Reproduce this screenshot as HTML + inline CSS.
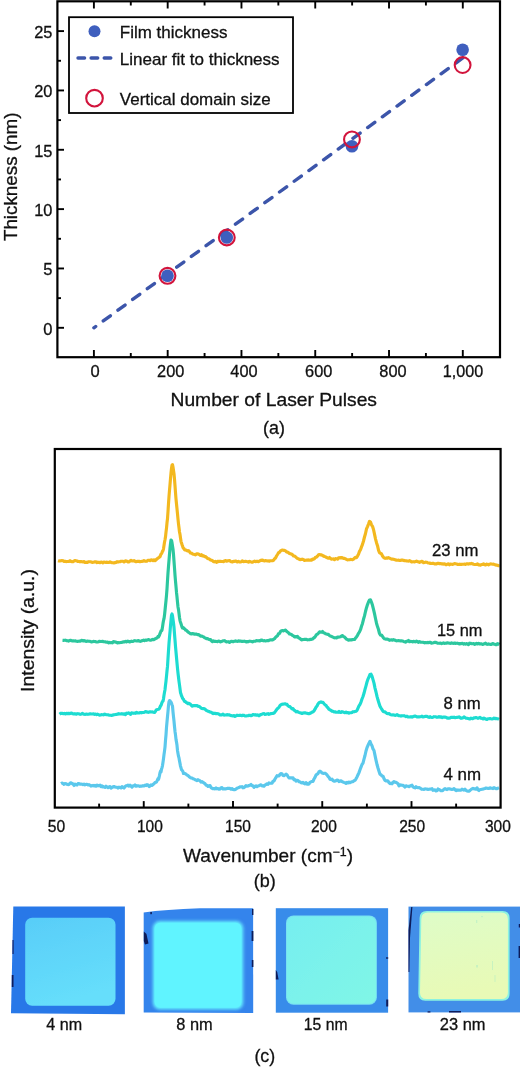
<!DOCTYPE html>
<html lang="en"><head><meta charset="utf-8"><title>Figure</title>
<style>html,body{margin:0;padding:0;background:#fff}body{width:520px;height:1067px;overflow:hidden}svg{display:block}svg text{stroke:#111;stroke-width:.3px}</style>
</head><body>
<svg width="520" height="1067" viewBox="0 0 520 1067" font-family='"Liberation Sans", sans-serif' fill="#111">
<rect width="520" height="1067" fill="#fff"/>
<g stroke="#000" stroke-width="1.9" fill="none">
<line x1="57.4" x2="64.0" y1="327.80" y2="327.80"/>
<line x1="57.4" x2="64.0" y1="268.46" y2="268.46"/>
<line x1="57.4" x2="64.0" y1="209.12" y2="209.12"/>
<line x1="57.4" x2="64.0" y1="149.78" y2="149.78"/>
<line x1="57.4" x2="64.0" y1="90.44" y2="90.44"/>
<line x1="57.4" x2="64.0" y1="31.10" y2="31.10"/>
<line x1="57.4" x2="61.0" y1="298.13" y2="298.13"/>
<line x1="57.4" x2="61.0" y1="238.79" y2="238.79"/>
<line x1="57.4" x2="61.0" y1="179.45" y2="179.45"/>
<line x1="57.4" x2="61.0" y1="120.11" y2="120.11"/>
<line x1="57.4" x2="61.0" y1="60.77" y2="60.77"/>
<line x1="93.90" x2="93.90" y1="357.2" y2="350.0"/>
<line x1="93.90" x2="93.90" y1="1.3" y2="8.5"/>
<line x1="167.68" x2="167.68" y1="357.2" y2="350.0"/>
<line x1="167.68" x2="167.68" y1="1.3" y2="8.5"/>
<line x1="241.46" x2="241.46" y1="357.2" y2="350.0"/>
<line x1="241.46" x2="241.46" y1="1.3" y2="8.5"/>
<line x1="315.24" x2="315.24" y1="357.2" y2="350.0"/>
<line x1="315.24" x2="315.24" y1="1.3" y2="8.5"/>
<line x1="389.02" x2="389.02" y1="357.2" y2="350.0"/>
<line x1="389.02" x2="389.02" y1="1.3" y2="8.5"/>
<line x1="462.80" x2="462.80" y1="357.2" y2="350.0"/>
<line x1="462.80" x2="462.80" y1="1.3" y2="8.5"/>
<line x1="130.79" x2="130.79" y1="357.2" y2="353.0"/>
<line x1="130.79" x2="130.79" y1="1.3" y2="5.5"/>
<line x1="204.57" x2="204.57" y1="357.2" y2="353.0"/>
<line x1="204.57" x2="204.57" y1="1.3" y2="5.5"/>
<line x1="278.35" x2="278.35" y1="357.2" y2="353.0"/>
<line x1="278.35" x2="278.35" y1="1.3" y2="5.5"/>
<line x1="352.13" x2="352.13" y1="357.2" y2="353.0"/>
<line x1="352.13" x2="352.13" y1="1.3" y2="5.5"/>
<line x1="425.91" x2="425.91" y1="357.2" y2="353.0"/>
<line x1="425.91" x2="425.91" y1="1.3" y2="5.5"/>
</g>
<rect x="57.4" y="1.3" width="442.6" height="355.9" fill="none" stroke="#000" stroke-width="2.2"/>
<rect x="69" y="17.2" width="224" height="95.8" fill="#fff" stroke="#000" stroke-width="1.8"/>
<line x1="93.90" y1="327.80" x2="462.80" y2="57.92" stroke="#3C55AA" stroke-width="3.4" stroke-dasharray="8.8 9.4" stroke-dashoffset="6.6" stroke-linecap="round"/>
<circle cx="167.50" cy="275.82" r="6.3" fill="#3F5FBE"/>
<circle cx="226.81" cy="237.48" r="6.3" fill="#3F5FBE"/>
<circle cx="351.95" cy="146.22" r="6.3" fill="#3F5FBE"/>
<circle cx="462.62" cy="49.73" r="6.3" fill="#3F5FBE"/>
<circle cx="167.50" cy="275.82" r="7.9" fill="none" stroke="#D2143C" stroke-width="2.1"/>
<circle cx="226.81" cy="237.48" r="7.9" fill="none" stroke="#D2143C" stroke-width="2.1"/>
<circle cx="351.95" cy="139.45" r="7.9" fill="none" stroke="#D2143C" stroke-width="2.1"/>
<circle cx="462.62" cy="65.04" r="7.9" fill="none" stroke="#D2143C" stroke-width="2.1"/>
<circle cx="94.5" cy="31.2" r="6.0" fill="#3F5FBE"/>
<line x1="78" y1="58" x2="110.8" y2="58" stroke="#3C55AA" stroke-width="3.4" stroke-dasharray="6.6 6.5" stroke-linecap="round"/>
<circle cx="94.5" cy="98.2" r="8.3" fill="none" stroke="#D2143C" stroke-width="2.1"/>
<text x="119.80" y="37.60" font-size="16.6" text-anchor="start" textLength="107.6" lengthAdjust="spacingAndGlyphs">Film thickness</text>
<text x="119.80" y="64.60" font-size="16.6" text-anchor="start" textLength="159.8" lengthAdjust="spacingAndGlyphs">Linear fit to thickness</text>
<text x="119.80" y="105.10" font-size="16.6" text-anchor="start" textLength="151.0" lengthAdjust="spacingAndGlyphs">Vertical domain size</text>
<text x="52.40" y="334.60" font-size="16.6" text-anchor="end" textLength="9.2" lengthAdjust="spacingAndGlyphs">0</text>
<text x="52.40" y="275.26" font-size="16.6" text-anchor="end" textLength="9.2" lengthAdjust="spacingAndGlyphs">5</text>
<text x="52.40" y="215.92" font-size="16.6" text-anchor="end" textLength="18.2" lengthAdjust="spacingAndGlyphs">10</text>
<text x="52.40" y="156.58" font-size="16.6" text-anchor="end" textLength="18.2" lengthAdjust="spacingAndGlyphs">15</text>
<text x="52.40" y="97.24" font-size="16.6" text-anchor="end" textLength="18.2" lengthAdjust="spacingAndGlyphs">20</text>
<text x="52.40" y="37.90" font-size="16.6" text-anchor="end" textLength="18.2" lengthAdjust="spacingAndGlyphs">25</text>
<text x="95.20" y="376.80" font-size="16.5" text-anchor="middle" textLength="9.2" lengthAdjust="spacingAndGlyphs">0</text>
<text x="170.75" y="376.80" font-size="16.5" text-anchor="middle" textLength="27.3" lengthAdjust="spacingAndGlyphs">200</text>
<text x="244.00" y="376.80" font-size="16.5" text-anchor="middle" textLength="27.3" lengthAdjust="spacingAndGlyphs">400</text>
<text x="318.75" y="376.80" font-size="16.5" text-anchor="middle" textLength="27.3" lengthAdjust="spacingAndGlyphs">600</text>
<text x="393.00" y="376.80" font-size="16.5" text-anchor="middle" textLength="27.3" lengthAdjust="spacingAndGlyphs">800</text>
<text x="462.90" y="376.80" font-size="16.5" text-anchor="middle" textLength="40.5" lengthAdjust="spacingAndGlyphs">1,000</text>
<text x="170.50" y="405.50" font-size="18.5" text-anchor="start" textLength="206.5" lengthAdjust="spacingAndGlyphs">Number of Laser Pulses</text>
<text x="263.10" y="434.30" font-size="19" text-anchor="start" textLength="21.9" lengthAdjust="spacingAndGlyphs">(a)</text>
<text transform="translate(16.6,176.8) rotate(-90)" font-size="19.2" text-anchor="middle" textLength="128.6" lengthAdjust="spacingAndGlyphs">Thickness (nm)</text>
<g stroke="#000" stroke-width="1.9" fill="none">
<line x1="143.75" x2="143.75" y1="807.6" y2="801.1"/>
<line x1="233.00" x2="233.00" y1="807.6" y2="801.1"/>
<line x1="322.25" x2="322.25" y1="807.6" y2="801.1"/>
<line x1="411.50" x2="411.50" y1="807.6" y2="801.1"/>
<line x1="99.12" x2="99.12" y1="807.6" y2="803.6"/>
<line x1="188.38" x2="188.38" y1="807.6" y2="803.6"/>
<line x1="277.62" x2="277.62" y1="807.6" y2="803.6"/>
<line x1="366.88" x2="366.88" y1="807.6" y2="803.6"/>
<line x1="456.12" x2="456.12" y1="807.6" y2="803.6"/>
</g>
<path d="M58.0,560.7 L59.0,561.0 L60.0,560.9 L61.0,560.8 L62.0,560.6 L63.0,560.7 L64.0,561.3 L65.0,561.3 L66.0,561.6 L67.0,561.5 L68.0,561.5 L69.0,561.4 L70.0,560.7 L71.0,561.4 L72.0,561.6 L73.0,561.7 L74.0,560.9 L75.0,560.6 L76.0,560.8 L77.0,561.0 L78.0,561.5 L79.0,561.5 L80.0,561.8 L81.0,561.5 L82.0,561.8 L83.0,561.9 L84.0,561.6 L85.0,562.4 L86.0,562.3 L87.0,562.5 L88.0,562.0 L89.0,561.7 L90.0,561.8 L91.0,561.9 L92.0,562.3 L93.0,562.3 L94.0,562.1 L95.0,561.8 L96.0,561.9 L97.0,562.6 L98.0,562.2 L99.0,562.4 L100.0,562.6 L101.0,562.0 L102.0,562.3 L103.0,562.9 L104.0,562.0 L105.0,562.2 L106.0,562.4 L107.0,562.1 L108.0,562.5 L109.0,562.4 L110.0,561.8 L111.0,562.4 L112.0,562.6 L113.0,562.7 L114.0,562.9 L115.0,562.6 L116.0,562.4 L117.0,561.7 L118.0,562.1 L119.0,561.8 L120.0,561.7 L121.0,561.3 L122.0,561.2 L123.0,561.3 L124.0,562.0 L125.0,561.1 L126.0,560.9 L127.0,561.3 L128.0,562.0 L129.0,561.9 L130.0,561.0 L131.0,560.3 L132.0,561.0 L133.0,560.9 L134.0,560.7 L135.0,561.3 L136.0,561.7 L137.0,561.4 L138.0,561.3 L139.0,561.3 L140.0,561.7 L141.0,561.5 L142.0,561.4 L143.0,561.3 L144.0,560.5 L145.0,561.1 L146.0,561.3 L147.0,561.1 L148.0,560.2 L149.0,560.2 L150.0,560.7 L151.0,559.9 L152.0,560.1 L153.0,560.6 L154.0,559.9 L155.0,560.6 L156.0,559.9 L157.0,558.9 L158.0,558.1 L159.0,557.5 L159.5,556.9 L160.0,556.8 L160.5,555.4 L161.0,554.2 L161.5,553.7 L162.0,552.6 L162.5,551.2 L163.0,550.7 L163.5,548.8 L164.0,545.6 L164.5,542.3 L165.0,539.8 L165.5,536.8 L166.0,532.1 L166.5,528.1 L167.0,522.8 L167.5,518.6 L168.0,511.5 L168.5,503.7 L169.0,496.5 L169.5,490.4 L170.0,484.7 L170.5,478.7 L171.0,473.2 L171.5,468.5 L172.0,465.2 L172.5,464.7 L173.0,467.0 L173.5,470.5 L174.0,473.7 L174.5,479.1 L175.0,485.6 L175.5,492.7 L176.0,498.8 L176.5,504.0 L177.0,508.8 L177.5,513.9 L178.0,519.2 L178.5,523.9 L179.0,527.8 L179.5,532.0 L180.0,534.4 L180.5,538.0 L181.0,541.3 L181.5,543.1 L182.0,544.6 L182.5,545.9 L183.0,547.7 L183.5,548.4 L184.0,548.5 L184.5,549.8 L185.0,549.8 L185.5,549.8 L186.0,550.1 L186.5,550.4 L187.5,551.0 L188.5,550.7 L189.5,551.7 L190.5,553.0 L191.5,553.2 L192.5,553.8 L193.5,554.3 L194.5,554.5 L195.5,554.9 L196.5,553.9 L197.5,553.9 L198.5,554.1 L199.5,554.8 L200.5,555.5 L201.5,554.7 L202.5,555.9 L203.5,555.7 L204.5,556.6 L205.5,556.6 L206.5,557.4 L207.5,558.4 L208.5,558.7 L209.5,559.2 L210.5,559.9 L211.5,560.2 L212.5,560.6 L213.5,561.6 L214.5,561.8 L215.5,561.4 L216.5,562.3 L217.5,561.3 L218.5,561.6 L219.5,561.3 L220.5,561.3 L221.5,561.5 L222.5,561.5 L223.5,561.6 L224.5,560.9 L225.5,560.6 L226.5,561.2 L227.5,560.9 L228.5,560.8 L229.5,560.5 L230.5,561.4 L231.5,561.7 L232.5,562.0 L233.5,561.3 L234.5,561.4 L235.5,561.0 L236.5,561.5 L237.5,562.0 L238.5,561.4 L239.5,562.0 L240.5,562.0 L241.5,561.6 L242.5,560.8 L243.5,561.7 L244.5,561.5 L245.5,561.3 L246.5,561.5 L247.5,561.7 L248.5,562.1 L249.5,561.4 L250.5,561.8 L251.5,562.1 L252.5,562.2 L253.5,561.6 L254.5,561.2 L255.5,561.6 L256.5,561.4 L257.5,561.3 L258.5,561.7 L259.5,561.2 L260.5,560.3 L261.5,560.5 L262.5,560.0 L263.5,560.8 L264.5,560.9 L265.5,560.6 L266.5,560.7 L267.5,561.0 L268.5,560.9 L269.5,561.2 L270.5,560.7 L271.5,560.7 L272.5,560.7 L273.5,560.3 L274.5,558.8 L275.5,558.1 L276.5,556.0 L277.5,554.5 L278.5,552.7 L279.5,552.3 L280.5,550.8 L281.5,550.3 L282.5,550.1 L283.5,550.3 L284.5,550.3 L285.5,550.8 L286.5,551.9 L287.5,552.1 L288.5,552.7 L289.5,553.5 L290.5,553.9 L291.5,554.0 L292.5,554.8 L293.5,556.0 L294.5,556.0 L295.5,556.7 L296.5,557.8 L297.5,558.5 L298.5,558.8 L299.5,559.4 L300.5,559.6 L301.5,559.3 L302.5,559.2 L303.5,559.6 L304.5,560.4 L305.5,560.2 L306.5,560.1 L307.5,560.1 L308.5,559.9 L309.5,560.2 L310.5,559.9 L311.5,560.2 L312.5,559.1 L313.5,559.3 L314.5,558.6 L315.5,557.3 L316.5,557.2 L317.5,556.2 L318.5,554.8 L319.5,554.5 L320.5,554.9 L321.5,554.9 L322.5,555.5 L323.5,556.0 L324.5,556.5 L325.5,556.8 L326.5,557.5 L327.5,557.9 L328.5,558.2 L329.5,557.5 L330.5,558.5 L331.5,559.2 L332.5,559.0 L333.5,558.9 L334.5,559.7 L335.5,558.6 L336.5,558.7 L337.5,559.2 L338.5,557.9 L339.5,557.7 L340.5,558.0 L341.5,557.5 L342.5,557.8 L343.5,558.4 L344.5,558.3 L345.5,558.8 L346.5,559.4 L347.5,559.9 L348.5,559.8 L349.5,559.7 L350.5,559.4 L351.5,559.5 L352.5,559.7 L353.5,559.1 L354.5,558.1 L355.5,557.4 L356.5,557.7 L357.5,556.1 L358.5,554.2 L359.5,551.4 L360.5,549.7 L361.5,546.9 L362.5,544.4 L363.5,541.0 L364.5,537.0 L365.5,533.5 L366.5,528.9 L367.5,526.6 L368.5,524.1 L369.5,521.4 L370.5,522.0 L371.5,524.8 L372.5,526.3 L373.5,529.5 L374.5,534.2 L375.5,538.8 L376.5,542.7 L377.5,545.7 L378.5,550.1 L379.5,552.8 L380.5,553.2 L381.5,553.9 L382.5,556.0 L383.5,557.3 L384.5,558.2 L385.5,558.3 L386.5,557.9 L387.5,558.2 L388.5,557.7 L389.5,558.1 L390.5,558.6 L391.5,559.1 L392.5,559.0 L393.5,559.2 L394.5,559.6 L395.5,559.9 L396.5,560.1 L397.5,560.2 L398.5,560.1 L399.5,560.5 L400.5,560.4 L401.5,560.1 L402.5,560.1 L403.5,560.4 L404.5,560.6 L405.5,560.8 L406.5,560.9 L407.5,561.0 L408.5,561.1 L409.5,560.7 L410.5,561.2 L411.5,561.8 L412.5,561.8 L413.5,561.7 L414.5,561.9 L415.5,561.6 L416.5,561.1 L417.5,561.7 L418.5,561.7 L419.5,562.3 L420.5,562.0 L421.5,561.3 L422.5,561.6 L423.5,562.7 L424.5,562.5 L425.5,562.1 L426.5,562.2 L427.5,562.7 L428.5,563.0 L429.5,563.0 L430.5,563.5 L431.5,563.5 L432.5,563.3 L433.5,563.4 L434.5,563.9 L435.5,563.9 L436.5,564.0 L437.5,563.3 L438.5,563.3 L439.5,563.7 L440.5,563.5 L441.5,563.9 L442.5,563.9 L443.5,564.1 L444.5,563.8 L445.5,564.6 L446.5,564.6 L447.5,564.0 L448.5,563.9 L449.5,564.8 L450.5,564.1 L451.5,564.3 L452.5,564.4 L453.5,564.1 L454.5,563.6 L455.5,563.8 L456.5,564.0 L457.5,564.4 L458.5,564.5 L459.5,564.2 L460.5,564.4 L461.5,564.4 L462.5,564.3 L463.5,564.2 L464.5,564.1 L465.5,564.4 L466.5,563.9 L467.5,563.8 L468.5,564.1 L469.5,563.7 L470.5,563.8 L471.5,563.4 L472.5,563.7 L473.5,564.3 L474.5,564.5 L475.5,564.5 L476.5,564.4 L477.5,563.9 L478.5,564.9 L479.5,564.9 L480.5,565.1 L481.5,564.5 L482.5,564.5 L483.5,563.9 L484.5,564.6 L485.5,565.0 L486.5,564.1 L487.5,564.4 L488.5,564.8 L489.5,564.2 L490.5,563.9 L491.5,564.0 L492.5,564.2 L493.5,564.1 L494.5,564.6 L495.5,564.9 L496.5,565.1 L497.5,565.3 L498.5,565.7 L499.5,565.7" fill="none" stroke="#F3B81F" stroke-width="3.15" stroke-linejoin="round" stroke-linecap="butt"/>
<path d="M62.5,640.3 L63.5,640.4 L64.5,640.3 L65.5,640.2 L66.5,640.6 L67.5,640.8 L68.5,641.1 L69.5,640.5 L70.5,640.3 L71.5,640.7 L72.5,640.9 L73.5,640.9 L74.5,641.0 L75.5,640.8 L76.5,641.3 L77.5,641.4 L78.5,641.3 L79.5,641.1 L80.5,641.2 L81.5,640.3 L82.5,640.5 L83.5,641.0 L84.5,640.7 L85.5,641.2 L86.5,641.4 L87.5,641.0 L88.5,641.2 L89.5,641.3 L90.5,641.6 L91.5,641.9 L92.5,641.8 L93.5,641.4 L94.5,641.5 L95.5,641.6 L96.5,642.0 L97.5,642.0 L98.5,641.7 L99.5,641.3 L100.5,641.5 L101.5,641.5 L102.5,641.3 L103.5,641.7 L104.5,641.7 L105.5,641.9 L106.5,642.2 L107.5,642.0 L108.5,642.9 L109.5,642.4 L110.5,642.7 L111.5,642.5 L112.5,642.8 L113.5,641.6 L114.5,641.7 L115.5,642.1 L116.5,642.3 L117.5,643.0 L118.5,642.6 L119.5,642.7 L120.5,642.5 L121.5,642.4 L122.5,642.2 L123.5,641.8 L124.5,641.9 L125.5,641.3 L126.5,641.8 L127.5,641.2 L128.5,641.3 L129.5,642.0 L130.5,641.5 L131.5,641.2 L132.5,641.5 L133.5,641.2 L134.5,640.7 L135.5,640.8 L136.5,641.0 L137.5,641.0 L138.5,640.5 L139.5,641.1 L140.5,641.3 L141.5,640.8 L142.5,640.6 L143.5,640.2 L144.5,640.7 L145.5,640.1 L146.5,640.3 L147.5,639.9 L148.5,639.6 L149.5,639.9 L150.5,640.2 L151.5,639.9 L152.5,639.4 L153.5,639.7 L154.5,639.3 L155.5,638.6 L156.5,638.2 L157.5,637.5 L158.0,636.5 L158.5,636.9 L159.0,636.0 L159.5,635.0 L160.0,633.5 L160.5,632.5 L161.0,630.9 L161.5,630.9 L162.0,630.1 L162.5,626.9 L163.0,623.6 L163.5,620.6 L164.0,618.7 L164.5,615.3 L165.0,610.5 L165.5,605.5 L166.0,600.7 L166.5,595.4 L167.0,588.9 L167.5,580.5 L168.0,572.8 L168.5,566.3 L169.0,560.4 L169.5,554.2 L170.0,548.3 L170.5,543.6 L171.0,540.0 L171.5,540.4 L172.0,542.7 L172.5,545.9 L173.0,549.2 L173.5,554.4 L174.0,561.1 L174.5,568.0 L175.0,575.1 L175.5,581.2 L176.0,586.6 L176.5,592.4 L177.0,597.0 L177.5,602.1 L178.0,607.0 L178.5,609.6 L179.0,613.4 L179.5,617.5 L180.0,620.6 L180.5,622.3 L181.0,623.7 L181.5,625.4 L182.0,627.0 L182.5,627.9 L183.0,627.4 L183.5,627.8 L184.0,628.6 L184.5,628.8 L185.0,629.1 L185.5,630.0 L186.5,630.4 L187.5,631.5 L188.5,632.4 L189.5,633.0 L190.5,633.7 L191.5,634.0 L192.5,633.5 L193.5,633.8 L194.5,634.2 L195.5,634.0 L196.5,634.1 L197.5,634.6 L198.5,634.5 L199.5,635.3 L200.5,636.2 L201.5,636.0 L202.5,636.4 L203.5,636.7 L204.5,637.8 L205.5,638.1 L206.5,638.7 L207.5,638.6 L208.5,639.2 L209.5,639.6 L210.5,639.5 L211.5,640.9 L212.5,641.6 L213.5,640.9 L214.5,641.4 L215.5,641.3 L216.5,641.5 L217.5,641.6 L218.5,641.0 L219.5,641.2 L220.5,641.9 L221.5,641.5 L222.5,641.1 L223.5,640.8 L224.5,640.7 L225.5,641.3 L226.5,642.0 L227.5,641.8 L228.5,641.7 L229.5,642.4 L230.5,641.7 L231.5,641.3 L232.5,641.6 L233.5,641.7 L234.5,641.2 L235.5,640.9 L236.5,641.3 L237.5,641.4 L238.5,640.9 L239.5,641.1 L240.5,641.0 L241.5,641.4 L242.5,641.3 L243.5,641.3 L244.5,641.2 L245.5,641.6 L246.5,642.0 L247.5,641.5 L248.5,641.7 L249.5,641.2 L250.5,641.3 L251.5,641.5 L252.5,641.9 L253.5,641.3 L254.5,641.2 L255.5,641.2 L256.5,640.6 L257.5,640.8 L258.5,640.7 L259.5,641.0 L260.5,640.5 L261.5,640.0 L262.5,640.5 L263.5,640.8 L264.5,640.6 L265.5,641.0 L266.5,640.8 L267.5,640.5 L268.5,640.7 L269.5,640.0 L270.5,639.9 L271.5,639.9 L272.5,640.0 L273.5,639.3 L274.5,638.7 L275.5,637.4 L276.5,636.5 L277.5,635.8 L278.5,633.8 L279.5,633.4 L280.5,631.6 L281.5,630.8 L282.5,630.6 L283.5,630.9 L284.5,630.4 L285.5,630.1 L286.5,631.2 L287.5,632.0 L288.5,632.7 L289.5,634.0 L290.5,634.1 L291.5,634.6 L292.5,635.4 L293.5,635.9 L294.5,636.9 L295.5,636.6 L296.5,637.0 L297.5,636.4 L298.5,637.8 L299.5,638.2 L300.5,639.0 L301.5,639.9 L302.5,639.6 L303.5,639.5 L304.5,639.4 L305.5,639.3 L306.5,639.3 L307.5,639.8 L308.5,639.7 L309.5,639.6 L310.5,639.4 L311.5,639.4 L312.5,639.0 L313.5,638.1 L314.5,637.4 L315.5,636.2 L316.5,634.6 L317.5,634.1 L318.5,633.1 L319.5,631.9 L320.5,632.1 L321.5,632.1 L322.5,631.5 L323.5,632.7 L324.5,633.0 L325.5,633.7 L326.5,634.0 L327.5,634.4 L328.5,634.4 L329.5,635.6 L330.5,636.1 L331.5,636.4 L332.5,637.0 L333.5,637.3 L334.5,637.8 L335.5,637.7 L336.5,637.9 L337.5,637.1 L338.5,637.1 L339.5,637.0 L340.5,636.8 L341.5,635.9 L342.5,635.6 L343.5,636.6 L344.5,637.0 L345.5,638.1 L346.5,639.3 L347.5,639.5 L348.5,640.2 L349.5,639.8 L350.5,639.9 L351.5,639.9 L352.5,639.6 L353.5,639.5 L354.5,639.5 L355.5,638.1 L356.5,636.9 L357.5,635.4 L358.5,633.3 L359.5,631.9 L360.5,629.7 L361.5,626.3 L362.5,623.4 L363.5,619.3 L364.5,615.9 L365.5,611.5 L366.5,607.7 L367.5,604.6 L368.5,602.0 L369.5,600.0 L370.5,599.9 L371.5,602.3 L372.5,605.3 L373.5,609.3 L374.5,613.7 L375.5,618.5 L376.5,623.2 L377.5,626.6 L378.5,629.5 L379.5,633.5 L380.5,635.1 L381.5,635.0 L382.5,636.4 L383.5,637.9 L384.5,638.8 L385.5,639.1 L386.5,639.1 L387.5,639.0 L388.5,639.6 L389.5,640.3 L390.5,640.0 L391.5,639.8 L392.5,640.2 L393.5,639.7 L394.5,640.1 L395.5,640.3 L396.5,640.8 L397.5,640.7 L398.5,640.5 L399.5,640.7 L400.5,640.9 L401.5,640.8 L402.5,641.0 L403.5,641.4 L404.5,641.7 L405.5,642.1 L406.5,641.4 L407.5,641.3 L408.5,640.5 L409.5,641.7 L410.5,641.4 L411.5,641.5 L412.5,641.8 L413.5,641.3 L414.5,641.7 L415.5,641.8 L416.5,641.2 L417.5,641.7 L418.5,642.3 L419.5,641.5 L420.5,642.1 L421.5,642.2 L422.5,642.3 L423.5,642.4 L424.5,642.8 L425.5,642.5 L426.5,642.7 L427.5,642.4 L428.5,642.7 L429.5,642.3 L430.5,642.4 L431.5,643.1 L432.5,643.0 L433.5,642.8 L434.5,642.4 L435.5,642.3 L436.5,642.7 L437.5,643.2 L438.5,643.2 L439.5,643.3 L440.5,643.1 L441.5,643.6 L442.5,643.2 L443.5,642.9 L444.5,643.4 L445.5,643.3 L446.5,643.1 L447.5,642.9 L448.5,643.0 L449.5,643.3 L450.5,643.4 L451.5,642.9 L452.5,643.3 L453.5,643.4 L454.5,643.0 L455.5,643.5 L456.5,643.3 L457.5,643.2 L458.5,643.6 L459.5,644.0 L460.5,643.5 L461.5,643.6 L462.5,643.3 L463.5,644.2 L464.5,643.7 L465.5,644.1 L466.5,643.6 L467.5,643.9 L468.5,644.6 L469.5,643.2 L470.5,643.3 L471.5,643.7 L472.5,643.7 L473.5,643.5 L474.5,644.4 L475.5,644.1 L476.5,643.4 L477.5,643.9 L478.5,643.3 L479.5,644.0 L480.5,643.8 L481.5,643.9 L482.5,644.4 L483.5,644.2 L484.5,643.6 L485.5,643.2 L486.5,644.1 L487.5,644.3 L488.5,643.9 L489.5,644.3 L490.5,644.4 L491.5,644.5 L492.5,643.5 L493.5,643.8 L494.5,644.3 L495.5,644.6 L496.5,644.7 L497.5,643.6 L498.5,644.0 L499.5,644.4" fill="none" stroke="#2CC79E" stroke-width="3.15" stroke-linejoin="round" stroke-linecap="butt"/>
<path d="M59.5,714.2 L60.5,713.4 L61.5,713.3 L62.5,713.4 L63.5,713.7 L64.5,713.4 L65.5,713.9 L66.5,713.4 L67.5,713.6 L68.5,713.4 L69.5,713.6 L70.5,713.4 L71.5,713.0 L72.5,713.8 L73.5,713.9 L74.5,713.7 L75.5,713.9 L76.5,714.2 L77.5,713.7 L78.5,713.8 L79.5,714.1 L80.5,714.3 L81.5,714.0 L82.5,713.3 L83.5,714.2 L84.5,714.3 L85.5,714.3 L86.5,714.1 L87.5,714.3 L88.5,714.2 L89.5,713.9 L90.5,713.9 L91.5,714.0 L92.5,714.0 L93.5,713.8 L94.5,714.4 L95.5,714.0 L96.5,714.6 L97.5,714.2 L98.5,714.6 L99.5,715.1 L100.5,715.0 L101.5,714.6 L102.5,714.7 L103.5,714.8 L104.5,714.2 L105.5,714.4 L106.5,714.7 L107.5,714.7 L108.5,714.9 L109.5,715.2 L110.5,715.3 L111.5,715.4 L112.5,715.2 L113.5,714.8 L114.5,714.7 L115.5,714.5 L116.5,714.4 L117.5,714.3 L118.5,713.7 L119.5,713.9 L120.5,714.0 L121.5,713.7 L122.5,713.9 L123.5,714.1 L124.5,713.9 L125.5,714.6 L126.5,713.2 L127.5,713.3 L128.5,712.8 L129.5,713.5 L130.5,714.4 L131.5,712.9 L132.5,713.1 L133.5,713.3 L134.5,713.1 L135.5,713.3 L136.5,712.3 L137.5,712.9 L138.5,713.0 L139.5,712.9 L140.5,712.5 L141.5,712.8 L142.5,712.5 L143.5,712.5 L144.5,712.2 L145.5,711.5 L146.5,711.9 L147.5,712.1 L148.5,712.3 L149.5,711.8 L150.5,711.8 L151.5,712.0 L152.5,711.9 L153.5,712.2 L154.5,712.5 L155.5,711.2 L156.5,709.7 L157.5,709.5 L158.5,709.3 L159.0,708.9 L159.5,708.4 L160.0,707.2 L160.5,705.9 L161.0,705.4 L161.5,703.9 L162.0,702.4 L162.5,701.5 L163.0,701.1 L163.5,698.8 L164.0,695.3 L164.5,692.3 L165.0,689.7 L165.5,685.2 L166.0,681.1 L166.5,676.2 L167.0,671.0 L167.5,666.4 L168.0,658.3 L168.5,650.7 L169.0,643.3 L169.5,637.4 L170.0,631.8 L170.5,625.6 L171.0,620.4 L171.5,615.3 L172.0,614.0 L172.5,615.7 L173.0,619.5 L173.5,623.0 L174.0,627.3 L174.5,633.8 L175.0,640.0 L175.5,646.4 L176.0,652.0 L176.5,657.5 L177.0,663.0 L177.5,668.3 L178.0,673.2 L178.5,677.3 L179.0,681.4 L179.5,684.9 L180.0,688.8 L180.5,692.6 L181.0,694.0 L181.5,695.8 L182.0,696.8 L182.5,698.2 L183.0,699.0 L183.5,699.3 L184.0,700.5 L184.5,701.3 L185.0,701.3 L185.5,701.7 L186.0,702.3 L187.0,702.9 L188.0,703.6 L189.0,703.4 L190.0,703.9 L191.0,704.9 L192.0,706.1 L193.0,705.9 L194.0,705.5 L195.0,705.6 L196.0,705.6 L197.0,705.5 L198.0,706.4 L199.0,706.4 L200.0,706.9 L201.0,708.1 L202.0,708.5 L203.0,708.6 L204.0,708.6 L205.0,709.2 L206.0,710.2 L207.0,710.6 L208.0,711.3 L209.0,711.5 L210.0,712.0 L211.0,712.2 L212.0,712.8 L213.0,713.7 L214.0,713.2 L215.0,713.4 L216.0,713.6 L217.0,713.6 L218.0,713.7 L219.0,714.2 L220.0,714.9 L221.0,714.8 L222.0,714.8 L223.0,714.1 L224.0,715.1 L225.0,715.0 L226.0,715.0 L227.0,714.6 L228.0,714.9 L229.0,714.8 L230.0,715.2 L231.0,715.6 L232.0,715.7 L233.0,715.9 L234.0,715.6 L235.0,716.4 L236.0,715.9 L237.0,715.2 L238.0,715.5 L239.0,715.4 L240.0,715.2 L241.0,715.4 L242.0,715.7 L243.0,715.2 L244.0,715.4 L245.0,716.0 L246.0,716.0 L247.0,715.7 L248.0,715.6 L249.0,715.4 L250.0,715.4 L251.0,715.6 L252.0,715.4 L253.0,714.5 L254.0,714.9 L255.0,714.7 L256.0,715.2 L257.0,714.9 L258.0,715.0 L259.0,715.8 L260.0,715.0 L261.0,714.5 L262.0,714.2 L263.0,713.7 L264.0,713.6 L265.0,714.4 L266.0,714.3 L267.0,713.8 L268.0,713.7 L269.0,714.3 L270.0,713.9 L271.0,713.6 L272.0,713.5 L273.0,713.4 L274.0,713.1 L275.0,712.0 L276.0,710.5 L277.0,709.1 L278.0,708.3 L279.0,707.2 L280.0,705.5 L281.0,704.7 L282.0,704.3 L283.0,704.1 L284.0,704.0 L285.0,703.8 L286.0,704.2 L287.0,704.4 L288.0,705.8 L289.0,706.5 L290.0,706.6 L291.0,707.9 L292.0,708.8 L293.0,708.5 L294.0,710.1 L295.0,710.7 L296.0,711.8 L297.0,711.3 L298.0,712.0 L299.0,712.4 L300.0,712.7 L301.0,713.0 L302.0,713.5 L303.0,713.0 L304.0,712.9 L305.0,712.8 L306.0,713.1 L307.0,713.2 L308.0,713.6 L309.0,713.6 L310.0,713.4 L311.0,712.8 L312.0,712.2 L313.0,711.8 L314.0,710.8 L315.0,709.2 L316.0,707.3 L317.0,706.1 L318.0,703.9 L319.0,702.7 L320.0,702.3 L321.0,701.8 L322.0,702.3 L323.0,702.3 L324.0,703.7 L325.0,704.8 L326.0,705.3 L327.0,707.0 L328.0,707.8 L329.0,709.4 L330.0,709.8 L331.0,710.4 L332.0,711.1 L333.0,711.3 L334.0,711.8 L335.0,711.8 L336.0,712.2 L337.0,712.2 L338.0,712.3 L339.0,711.3 L340.0,712.3 L341.0,712.3 L342.0,711.7 L343.0,712.0 L344.0,712.4 L345.0,712.7 L346.0,712.1 L347.0,712.8 L348.0,712.5 L349.0,713.2 L350.0,712.7 L351.0,712.7 L352.0,712.4 L353.0,711.7 L354.0,711.8 L355.0,711.5 L356.0,711.3 L357.0,710.4 L358.0,708.2 L359.0,705.9 L360.0,704.4 L361.0,702.1 L362.0,699.0 L363.0,696.5 L364.0,693.3 L365.0,689.4 L366.0,685.8 L367.0,682.0 L368.0,679.1 L369.0,676.8 L370.0,674.5 L371.0,674.1 L372.0,676.1 L373.0,679.6 L374.0,683.1 L375.0,688.1 L376.0,692.0 L377.0,696.4 L378.0,700.1 L379.0,703.2 L380.0,706.2 L381.0,708.0 L382.0,709.6 L383.0,711.3 L384.0,711.8 L385.0,711.9 L386.0,712.8 L387.0,713.5 L388.0,713.7 L389.0,713.5 L390.0,714.4 L391.0,714.8 L392.0,715.0 L393.0,714.8 L394.0,715.0 L395.0,715.4 L396.0,715.2 L397.0,714.7 L398.0,715.3 L399.0,715.7 L400.0,715.7 L401.0,716.1 L402.0,715.7 L403.0,715.8 L404.0,715.7 L405.0,716.1 L406.0,716.6 L407.0,716.2 L408.0,716.9 L409.0,717.0 L410.0,716.9 L411.0,716.7 L412.0,717.1 L413.0,716.6 L414.0,716.4 L415.0,716.0 L416.0,716.4 L417.0,717.0 L418.0,716.9 L419.0,716.9 L420.0,716.7 L421.0,716.7 L422.0,716.2 L423.0,716.9 L424.0,716.7 L425.0,716.4 L426.0,716.4 L427.0,716.4 L428.0,717.0 L429.0,717.4 L430.0,716.7 L431.0,717.3 L432.0,717.5 L433.0,717.2 L434.0,716.7 L435.0,716.8 L436.0,716.9 L437.0,717.3 L438.0,717.2 L439.0,716.6 L440.0,717.2 L441.0,716.8 L442.0,717.6 L443.0,717.1 L444.0,717.1 L445.0,717.1 L446.0,717.2 L447.0,717.9 L448.0,718.1 L449.0,718.1 L450.0,718.0 L451.0,717.3 L452.0,717.3 L453.0,717.4 L454.0,717.2 L455.0,717.7 L456.0,717.5 L457.0,717.4 L458.0,717.3 L459.0,716.9 L460.0,717.6 L461.0,718.3 L462.0,718.1 L463.0,717.7 L464.0,716.9 L465.0,717.5 L466.0,718.2 L467.0,718.2 L468.0,718.5 L469.0,718.8 L470.0,718.8 L471.0,718.2 L472.0,718.6 L473.0,718.6 L474.0,717.8 L475.0,717.9 L476.0,717.5 L477.0,717.9 L478.0,718.3 L479.0,717.9 L480.0,717.3 L481.0,718.3 L482.0,718.4 L483.0,718.9 L484.0,718.1 L485.0,718.6 L486.0,719.2 L487.0,719.5 L488.0,718.8 L489.0,718.7 L490.0,718.5 L491.0,718.8 L492.0,719.0 L493.0,718.8 L494.0,718.1 L495.0,718.6 L496.0,718.4 L497.0,718.7 L498.0,718.8 L499.0,719.3" fill="none" stroke="#1DDCD1" stroke-width="3.15" stroke-linejoin="round" stroke-linecap="butt"/>
<path d="M61.0,783.7 L62.0,783.1 L63.0,783.4 L64.0,784.4 L65.0,783.5 L66.0,783.7 L67.0,784.3 L68.0,784.6 L69.0,784.4 L70.0,783.2 L71.0,782.8 L72.0,783.5 L73.0,784.0 L74.0,785.5 L75.0,784.2 L76.0,784.8 L77.0,785.0 L78.0,783.6 L79.0,783.5 L80.0,784.1 L81.0,784.0 L82.0,784.2 L83.0,784.7 L84.0,784.2 L85.0,784.8 L86.0,784.4 L87.0,784.4 L88.0,785.0 L89.0,784.7 L90.0,785.1 L91.0,786.1 L92.0,785.7 L93.0,785.4 L94.0,785.9 L95.0,785.4 L96.0,786.2 L97.0,785.1 L98.0,785.8 L99.0,785.5 L100.0,785.2 L101.0,786.7 L102.0,785.8 L103.0,787.0 L104.0,786.9 L105.0,787.4 L106.0,786.2 L107.0,787.0 L108.0,787.6 L109.0,786.9 L110.0,786.6 L111.0,788.1 L112.0,787.4 L113.0,786.8 L114.0,786.5 L115.0,787.0 L116.0,787.2 L117.0,787.2 L118.0,788.1 L119.0,787.2 L120.0,787.3 L121.0,787.9 L122.0,786.7 L123.0,787.3 L124.0,788.1 L125.0,786.5 L126.0,785.9 L127.0,785.7 L128.0,785.1 L129.0,786.1 L130.0,785.2 L131.0,786.2 L132.0,787.2 L133.0,785.8 L134.0,785.9 L135.0,785.0 L136.0,786.2 L137.0,785.8 L138.0,785.8 L139.0,786.1 L140.0,786.4 L141.0,786.0 L142.0,786.1 L143.0,785.7 L144.0,785.9 L145.0,785.2 L146.0,785.6 L147.0,784.6 L148.0,785.0 L149.0,786.5 L150.0,786.0 L151.0,784.9 L152.0,785.3 L153.0,784.7 L154.0,783.7 L155.0,782.6 L156.0,782.3 L156.5,781.8 L157.0,781.0 L157.5,779.8 L158.0,778.7 L158.5,779.4 L159.0,777.7 L159.5,775.4 L160.0,772.8 L160.5,771.2 L161.0,771.9 L161.5,769.1 L162.0,767.7 L162.5,765.6 L163.0,762.2 L163.5,758.7 L164.0,754.6 L164.5,751.1 L165.0,747.1 L165.5,740.3 L166.0,734.8 L166.5,727.4 L167.0,721.9 L167.5,716.5 L168.0,711.4 L168.5,705.5 L169.0,701.8 L169.5,700.6 L170.0,700.7 L170.5,701.8 L171.0,702.1 L171.5,703.2 L172.0,704.8 L172.5,706.1 L173.0,711.9 L173.5,716.6 L174.0,721.1 L174.5,726.5 L175.0,731.4 L175.5,734.8 L176.0,739.4 L176.5,742.1 L177.0,745.3 L177.5,750.5 L178.0,753.5 L178.5,756.3 L179.0,757.9 L179.5,760.9 L180.0,763.4 L180.5,766.1 L181.0,767.8 L181.5,769.7 L182.0,770.2 L182.5,770.9 L183.0,771.6 L183.5,773.5 L184.0,773.3 L185.0,773.6 L186.0,774.2 L187.0,775.1 L188.0,775.4 L189.0,776.6 L190.0,777.3 L191.0,777.9 L192.0,778.0 L193.0,778.8 L194.0,779.0 L195.0,779.6 L196.0,780.2 L197.0,780.7 L198.0,779.7 L199.0,780.4 L200.0,780.8 L201.0,782.2 L202.0,781.7 L203.0,782.3 L204.0,783.1 L205.0,783.7 L206.0,785.1 L207.0,785.2 L208.0,786.4 L209.0,785.7 L210.0,785.5 L211.0,787.6 L212.0,788.3 L213.0,788.7 L214.0,788.6 L215.0,788.9 L216.0,788.0 L217.0,788.9 L218.0,788.5 L219.0,789.2 L220.0,789.0 L221.0,787.7 L222.0,787.6 L223.0,789.0 L224.0,788.9 L225.0,788.7 L226.0,788.9 L227.0,788.5 L228.0,788.2 L229.0,788.4 L230.0,788.4 L231.0,789.2 L232.0,788.6 L233.0,789.4 L234.0,789.6 L235.0,789.6 L236.0,789.1 L237.0,788.3 L238.0,787.9 L239.0,787.5 L240.0,786.9 L241.0,787.0 L242.0,786.6 L243.0,787.8 L244.0,787.6 L245.0,786.8 L246.0,785.6 L247.0,786.1 L248.0,786.0 L249.0,785.5 L250.0,785.2 L251.0,784.4 L252.0,785.6 L253.0,785.7 L254.0,787.3 L255.0,786.4 L256.0,785.9 L257.0,786.6 L258.0,786.0 L259.0,785.7 L260.0,785.2 L261.0,784.8 L262.0,785.8 L263.0,785.8 L264.0,786.2 L265.0,785.0 L266.0,784.6 L267.0,783.8 L268.0,784.3 L269.0,782.9 L270.0,783.2 L271.0,783.3 L272.0,783.2 L273.0,781.2 L274.0,780.9 L275.0,779.0 L276.0,777.4 L277.0,775.7 L278.0,775.9 L279.0,775.9 L280.0,774.3 L281.0,773.6 L282.0,773.7 L283.0,775.5 L284.0,775.6 L285.0,775.0 L286.0,774.2 L287.0,774.8 L288.0,776.5 L289.0,778.0 L290.0,777.7 L291.0,777.7 L292.0,778.1 L293.0,777.8 L294.0,779.7 L295.0,779.6 L296.0,781.1 L297.0,780.3 L298.0,780.5 L299.0,781.7 L300.0,781.7 L301.0,782.8 L302.0,783.0 L303.0,782.4 L304.0,783.4 L305.0,783.9 L306.0,782.6 L307.0,784.2 L308.0,784.1 L309.0,784.1 L310.0,782.3 L311.0,781.8 L312.0,781.3 L313.0,781.3 L314.0,779.0 L315.0,777.4 L316.0,775.1 L317.0,774.3 L318.0,773.6 L319.0,771.6 L320.0,771.2 L321.0,771.9 L322.0,773.0 L323.0,773.3 L324.0,773.3 L325.0,773.2 L326.0,773.9 L327.0,774.9 L328.0,776.3 L329.0,777.3 L330.0,779.2 L331.0,779.5 L332.0,779.1 L333.0,780.7 L334.0,781.2 L335.0,781.1 L336.0,780.7 L337.0,780.0 L338.0,780.2 L339.0,781.6 L340.0,781.2 L341.0,780.8 L342.0,781.6 L343.0,782.0 L344.0,782.4 L345.0,782.7 L346.0,783.3 L347.0,782.3 L348.0,782.9 L349.0,782.1 L350.0,782.7 L351.0,782.1 L352.0,781.7 L353.0,781.6 L354.0,780.7 L355.0,780.3 L356.0,778.8 L357.0,776.9 L358.0,774.8 L359.0,772.6 L360.0,769.8 L361.0,767.1 L362.0,764.5 L363.0,763.1 L364.0,759.1 L365.0,755.5 L366.0,751.0 L367.0,747.7 L368.0,745.3 L369.0,743.3 L370.0,741.3 L371.0,744.0 L372.0,745.8 L373.0,748.9 L374.0,750.5 L375.0,755.4 L376.0,760.1 L377.0,764.5 L378.0,768.0 L379.0,771.2 L380.0,774.3 L381.0,774.7 L382.0,776.0 L383.0,776.2 L384.0,778.7 L385.0,780.3 L386.0,780.9 L387.0,780.7 L388.0,781.0 L389.0,782.7 L390.0,783.6 L391.0,783.0 L392.0,783.8 L393.0,782.4 L394.0,781.6 L395.0,782.2 L396.0,782.4 L397.0,782.9 L398.0,783.7 L399.0,785.9 L400.0,784.9 L401.0,785.0 L402.0,785.3 L403.0,785.4 L404.0,786.1 L405.0,787.0 L406.0,785.8 L407.0,786.2 L408.0,786.2 L409.0,786.7 L410.0,785.9 L411.0,785.6 L412.0,785.2 L413.0,786.9 L414.0,787.5 L415.0,787.9 L416.0,786.7 L417.0,787.5 L418.0,787.7 L419.0,787.6 L420.0,787.9 L421.0,788.9 L422.0,789.3 L423.0,789.2 L424.0,789.4 L425.0,788.9 L426.0,789.0 L427.0,789.1 L428.0,789.4 L429.0,789.2 L430.0,789.1 L431.0,789.0 L432.0,788.7 L433.0,790.3 L434.0,790.0 L435.0,789.8 L436.0,790.9 L437.0,790.8 L438.0,789.0 L439.0,789.6 L440.0,789.9 L441.0,790.7 L442.0,790.7 L443.0,790.4 L444.0,789.1 L445.0,788.7 L446.0,789.2 L447.0,789.6 L448.0,788.8 L449.0,788.9 L450.0,788.9 L451.0,789.2 L452.0,789.5 L453.0,789.3 L454.0,788.6 L455.0,789.8 L456.0,790.6 L457.0,789.9 L458.0,790.3 L459.0,790.1 L460.0,790.2 L461.0,790.1 L462.0,789.2 L463.0,789.6 L464.0,790.1 L465.0,789.1 L466.0,790.4 L467.0,791.0 L468.0,791.1 L469.0,791.2 L470.0,790.5 L471.0,789.5 L472.0,788.9 L473.0,788.4 L474.0,788.8 L475.0,788.8 L476.0,789.2 L477.0,787.8 L478.0,789.7 L479.0,790.5 L480.0,789.5 L481.0,789.5 L482.0,789.3 L483.0,789.1 L484.0,788.7 L485.0,788.5 L486.0,788.0 L487.0,788.3 L488.0,788.4 L489.0,788.5 L490.0,787.9 L491.0,788.1 L492.0,788.2 L493.0,788.6 L494.0,787.7 L495.0,788.2 L496.0,788.7 L497.0,788.7 L498.0,788.1 L499.0,787.7" fill="none" stroke="#5BC8EC" stroke-width="3.15" stroke-linejoin="round" stroke-linecap="butt"/>
<rect x="54.8" y="449.0" width="445.8" height="358.6" fill="none" stroke="#000" stroke-width="2.2"/>
<text x="56.50" y="831.70" font-size="16" text-anchor="middle" textLength="17.4" lengthAdjust="spacingAndGlyphs">50</text>
<text x="149.90" y="831.70" font-size="16" text-anchor="middle" textLength="25.9" lengthAdjust="spacingAndGlyphs">100</text>
<text x="238.00" y="831.70" font-size="16" text-anchor="middle" textLength="25.9" lengthAdjust="spacingAndGlyphs">150</text>
<text x="323.90" y="831.70" font-size="16" text-anchor="middle" textLength="25.9" lengthAdjust="spacingAndGlyphs">200</text>
<text x="412.10" y="831.70" font-size="16" text-anchor="middle" textLength="25.9" lengthAdjust="spacingAndGlyphs">250</text>
<text x="497.90" y="831.70" font-size="16" text-anchor="middle" textLength="25.9" lengthAdjust="spacingAndGlyphs">300</text>
<text x="432.00" y="556.00" font-size="16.5" text-anchor="start" textLength="46.5" lengthAdjust="spacingAndGlyphs">23 nm</text>
<text x="436.90" y="636.40" font-size="16.5" text-anchor="start" textLength="45.5" lengthAdjust="spacingAndGlyphs">15 nm</text>
<text x="443.50" y="709.20" font-size="16.5" text-anchor="start" textLength="37.2" lengthAdjust="spacingAndGlyphs">8 nm</text>
<text x="443.50" y="780.00" font-size="16.5" text-anchor="start" textLength="37.6" lengthAdjust="spacingAndGlyphs">4 nm</text>
<text x="183" y="861.6" font-size="18.5" textLength="170" lengthAdjust="spacingAndGlyphs">Wavenumber (cm<tspan font-size="12" dy="-5.5">−1</tspan><tspan dy="5.5">)</tspan></text>
<text x="253.70" y="886.80" font-size="19" text-anchor="start" textLength="22.0" lengthAdjust="spacingAndGlyphs">(b)</text>
<text transform="translate(34.2,630.5) rotate(-90)" font-size="19.1" text-anchor="middle" textLength="122.8" lengthAdjust="spacingAndGlyphs">Intensity (a.u.)</text>
<defs><filter id="bl" x="-10%" y="-10%" width="120%" height="120%"><feGaussianBlur stdDeviation="0.55"/></filter>
<filter id="bl2" x="-10%" y="-10%" width="120%" height="120%"><feGaussianBlur stdDeviation="1.1"/></filter>
<filter id="bl3" x="-30%" y="-30%" width="160%" height="160%"><feGaussianBlur stdDeviation="0.4"/></filter>
<linearGradient id="g1" x1="0" y1="0" x2="0.3" y2="1"><stop offset="0" stop-color="#58CDF8"/><stop offset="1" stop-color="#66DEFB"/></linearGradient>
<linearGradient id="g3" x1="0" y1="0" x2="1" y2="1"><stop offset="0" stop-color="#76EEF0"/><stop offset="1" stop-color="#80F6E6"/></linearGradient>
<linearGradient id="g4" x1="0" y1="0" x2="0.2" y2="1"><stop offset="0" stop-color="#DEFCC8"/><stop offset="1" stop-color="#E8FAB6"/></linearGradient>
</defs>
<polygon points="13.3,906.4 124.9,906.4 124.9,1014.2 11,1013.2" fill="#2878E8"/>
<rect x="25.2" y="917.8" width="90.3" height="87.9" rx="7" fill="url(#g1)" filter="url(#bl)"/>
<g fill="#101C5A" filter="url(#bl3)"><rect x="12.5" y="940" width="1.1" height="14"/><rect x="11.8" y="975" width="1.7" height="12"/></g>
<path d="M143.7,912.4 Q165,909.6 200,908.3 L253.1,908.3 L253.2,1013 L143.7,1012.4 Z" fill="#3484EC"/>
<rect x="151.6" y="919.8" width="93" height="91" rx="8.5" fill="#4AA8F3" filter="url(#bl2)"/>
<rect x="153.6" y="921.8" width="88.8" height="87" rx="6.5" fill="#60F2FF" filter="url(#bl2)"/>
<rect x="154.6" y="922.8" width="86.8" height="85" rx="6" fill="#60F4FF"/>
<g fill="#101C5A" filter="url(#bl3)"><path d="M143.8,931.5 L146.5,934 L148.5,943.5 L145,944.5 L143.8,941 Z"/><rect x="150.3" y="912" width="1.6" height="2.2"/><rect x="252" y="909" width="1.4" height="6"/><rect x="251.6" y="931" width="1.8" height="10"/><rect x="251.8" y="960" width="1.6" height="7"/></g>
<rect x="275.8" y="908.2" width="112.3" height="104.5" fill="#388CEA"/>
<rect x="286" y="915.4" width="90.9" height="89.4" rx="7.5" fill="#78E0F2" filter="url(#bl)"/>
<rect x="287" y="916.4" width="88.9" height="87.4" rx="6.8" fill="url(#g3)" filter="url(#bl)"/>
<g fill="#101C5A" filter="url(#bl3)"><path d="M275.8,970 L277.2,972 L278.6,979.4 L275.8,979.4 Z"/><rect x="386" y="957.3" width="2.2" height="1.4"/><rect x="386.2" y="999.5" width="2" height="7"/></g>
<rect x="408.5" y="906.6" width="112" height="105.8" fill="#428EE8"/>
<path d="M426.8,910.9 L502.5,910.9 Q509.6,910.9 509.6,918 L509.6,993.6 Q509.6,1000.7 502.5,1000.7 L425.3,1000.7 Q418.2,1000.7 418.3,993.6 L419.6,918 Q419.7,910.9 426.8,910.9 Z" fill="#8CF2E0" filter="url(#bl)"/>
<path d="M427.8,912.6 L501.3,912.6 Q507.9,912.6 507.9,919.2 L507.9,992.4 Q507.9,999 501.3,999 L426.4,999 Q419.9,999 420,992.4 L421.3,919.2 Q421.4,912.6 427.8,912.6 Z" fill="url(#g4)" filter="url(#bl)"/>
<g fill="#101C5A" filter="url(#bl3)"><path d="M411.2,907 L412.4,907 L410,938 L409.4,972 L408.5,972 L408.5,930 Z"/><rect x="427.6" y="1011.3" width="2.8" height="1.2"/><rect x="449" y="1011" width="12" height="1.5"/><rect x="518.8" y="924" width="1.2" height="3.5"/><rect x="518.6" y="946" width="1.4" height="12"/></g>
<g fill="#9EE8C8" opacity="0.4" filter="url(#bl3)"><rect x="476" y="920" width="1.3" height="3"/><rect x="481" y="916" width="2" height="1.2"/><rect x="492" y="961" width="1" height="9"/><rect x="494.5" y="975" width="1" height="7"/><rect x="476" y="965" width="2" height="2.5"/></g>
<text x="46.30" y="1029.60" font-size="16.5" text-anchor="start" textLength="35.8" lengthAdjust="spacingAndGlyphs">4 nm</text>
<text x="176.30" y="1029.60" font-size="16.5" text-anchor="start" textLength="36.4" lengthAdjust="spacingAndGlyphs">8 nm</text>
<text x="303.80" y="1029.60" font-size="16.5" text-anchor="start" textLength="43.7" lengthAdjust="spacingAndGlyphs">15 nm</text>
<text x="439.80" y="1029.60" font-size="16.5" text-anchor="start" textLength="45.7" lengthAdjust="spacingAndGlyphs">23 nm</text>
<text x="254.40" y="1062.00" font-size="19" text-anchor="start" textLength="20.8" lengthAdjust="spacingAndGlyphs">(c)</text>
</svg>
</body></html>
